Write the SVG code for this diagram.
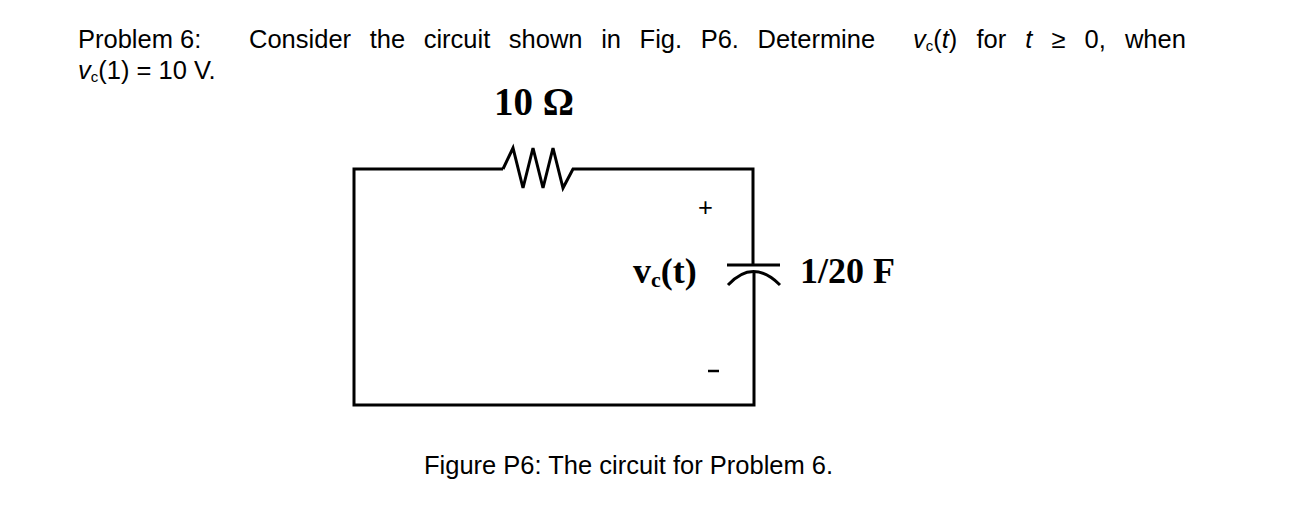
<svg xmlns="http://www.w3.org/2000/svg" width="1304" height="506" viewBox="0 0 1304 506">
<style>
.s{font-family:"Liberation Sans",Arial,sans-serif;font-size:25.5px;fill:#000}
.b{font-family:"Liberation Serif","Times New Roman",serif;font-weight:bold;fill:#000}
.w{fill:none;stroke:#000;stroke-width:3;stroke-linejoin:miter}
</style>
<rect width="1304" height="506" fill="#fff"/>
<g id="title">
<text class="s" x="78" y="48">Problem 6:</text>
<text class="s" x="249" y="48" word-spacing="11.5">Consider the circuit shown in Fig. P6. Determine</text>
<text class="s" x="913" y="48" word-spacing="12"><tspan font-style="italic">v</tspan><tspan font-size="15" dy="3">c</tspan><tspan dy="-3">(</tspan><tspan font-style="italic">t</tspan>) for <tspan font-style="italic">t</tspan> ≥ 0, when</text>
<text class="s" x="78" y="79"><tspan font-style="italic">v</tspan><tspan font-size="15" dy="3">c</tspan><tspan dy="-3">(1) = 10 V.</tspan></text>
</g>
<g id="connectors">
<path class="w" d="M503 169 H354 V405 H754 V273 M585 169 H753 V265"/>
</g>
<g id="resistor">
<path class="w" d="M503 169 L513 148 L523 188 L533 148 L543 188 L553 148 L563 188 L573 169 L585 169"/>
<text class="b" x="494" y="115" font-size="39">10 Ω</text>
</g>
<g id="capacitor">
<line class="w" x1="727" y1="265" x2="780" y2="265"/>
<path class="w" d="M728 285 Q753 258 780 285"/>
<text class="s" x="698" y="216" font-size="40">+</text>
<line x1="708" y1="371" x2="719" y2="371" stroke="#000" stroke-width="2.5"/>
<text class="b" x="633" y="283" font-size="36">v<tspan font-size="22" dy="4">c</tspan><tspan dy="-4">(t)</tspan></text>
<text class="b" x="800" y="283" font-size="36">1/20 F</text>
</g>
<g id="caption">
<text class="s" x="424" y="474" font-size="26">Figure P6: The circuit for Problem 6.</text>
</g>
</svg>
